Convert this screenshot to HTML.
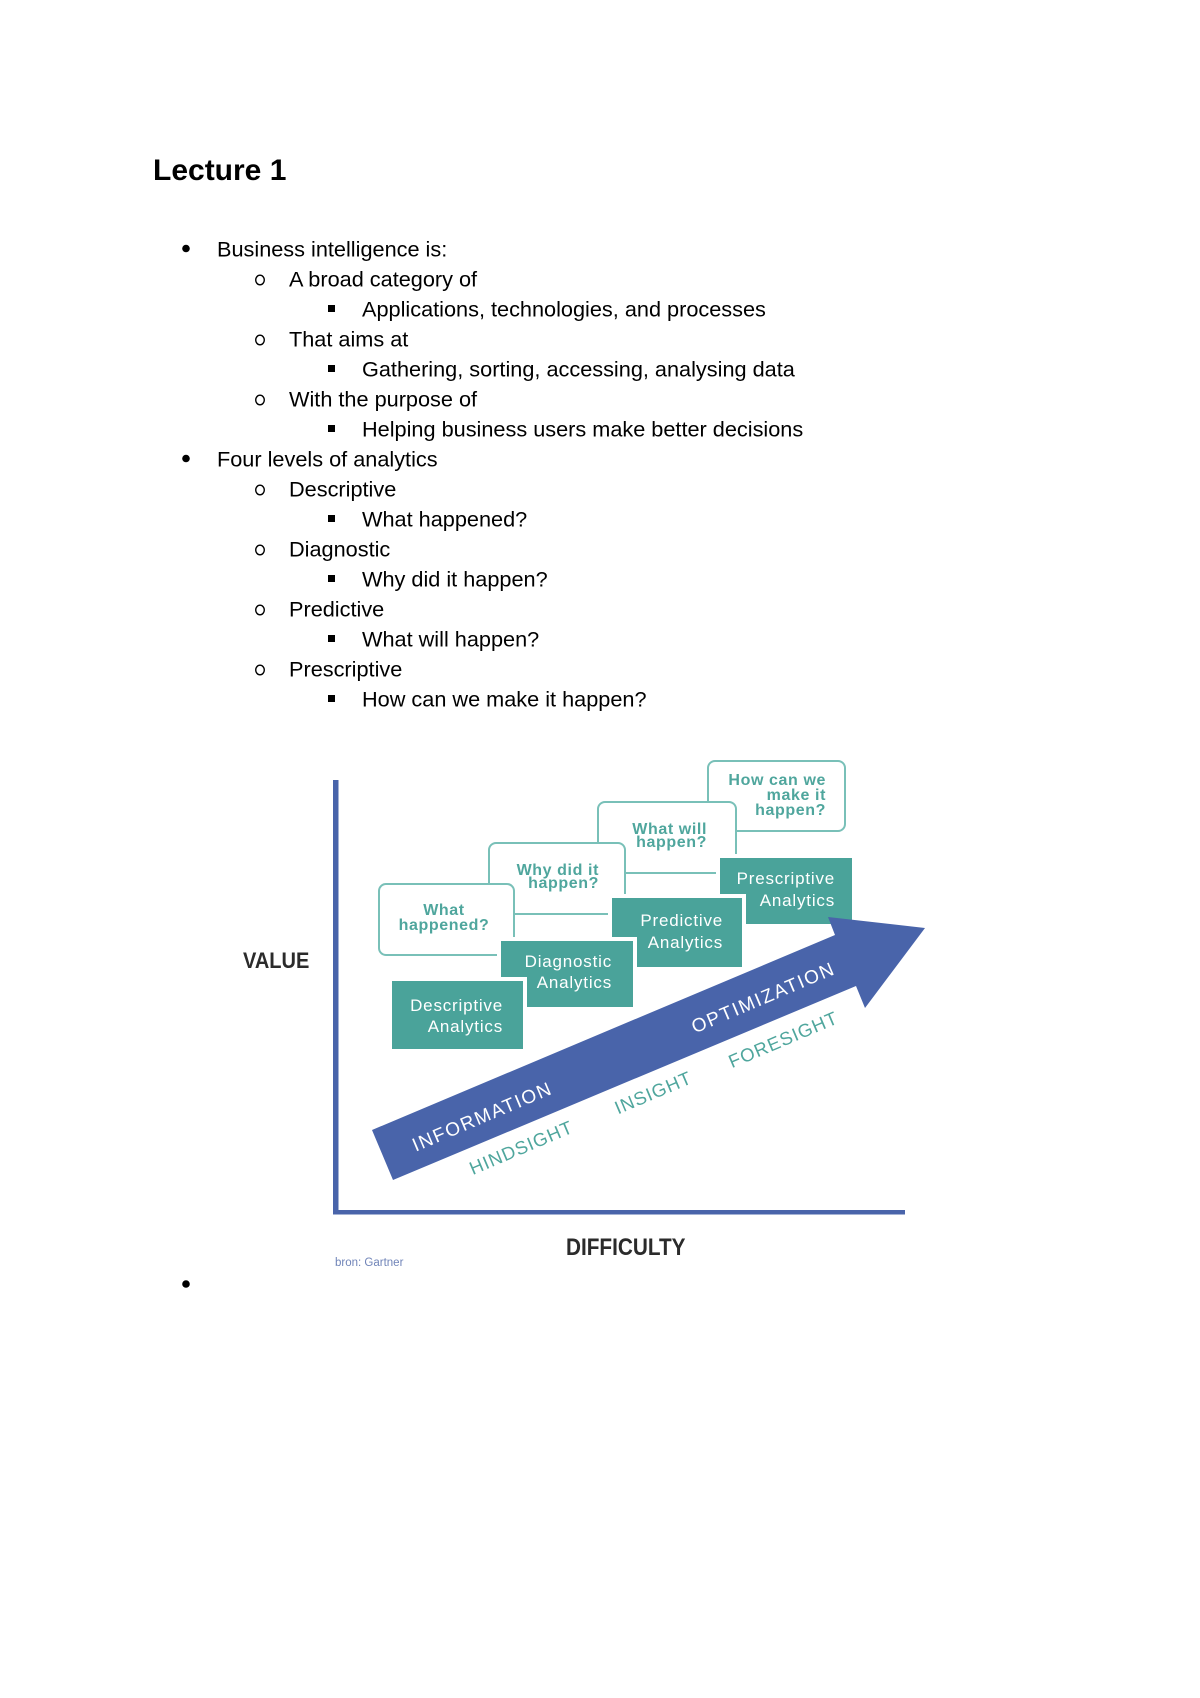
<!DOCTYPE html>
<html>
<head>
<meta charset="utf-8">
<style>
  html,body{margin:0;padding:0;background:#fff;}
  body{width:1200px;height:1698px;overflow:hidden;}
  svg{display:block;}
  .t{font-family:"Liberation Sans",Arial,sans-serif;font-size:21.7px;fill:#000;}
  .q{font-family:"Liberation Sans",Arial,sans-serif;font-size:16px;font-weight:bold;fill:#4fa69d;letter-spacing:0.6px;}
  .w{font-family:"Liberation Sans",Arial,sans-serif;font-size:17px;fill:#fff;letter-spacing:0.8px;}
  .a{font-family:"Liberation Sans",Arial,sans-serif;font-size:19px;fill:#fff;letter-spacing:1.7px;}
  .g{font-family:"Liberation Sans",Arial,sans-serif;font-size:18.5px;fill:#4fa69d;letter-spacing:1px;}
</style>
</head>
<body>
<svg width="1200" height="1698" viewBox="0 0 1200 1698" xmlns="http://www.w3.org/2000/svg">
  <rect x="0" y="0" width="1200" height="1698" fill="#fff"/>

  <!-- Title -->
  <text x="153" y="180" font-family="Liberation Sans, Arial, sans-serif" font-size="30" font-weight="bold" fill="#000">Lecture 1</text>

  <!-- Level 1 bullets -->
  <circle cx="186" cy="248.5" r="3.8" fill="#000"/>
  <circle cx="186" cy="458.5" r="3.8" fill="#000"/>
  <circle cx="186" cy="1284" r="3.8" fill="#000"/>

  <!-- Level 2 rings -->
  <g fill="none" stroke="#000" stroke-width="1.4">
    <ellipse cx="260" cy="280" rx="4.3" ry="4.8"/>
    <ellipse cx="260" cy="340" rx="4.3" ry="4.8"/>
    <ellipse cx="260" cy="400" rx="4.3" ry="4.8"/>
    <ellipse cx="260" cy="490" rx="4.3" ry="4.8"/>
    <ellipse cx="260" cy="550" rx="4.3" ry="4.8"/>
    <ellipse cx="260" cy="610" rx="4.3" ry="4.8"/>
    <ellipse cx="260" cy="670" rx="4.3" ry="4.8"/>
  </g>

  <!-- Level 3 squares -->
  <g fill="#000">
    <rect x="328" y="305" width="7" height="7"/>
    <rect x="328" y="365" width="7" height="7"/>
    <rect x="328" y="425" width="7" height="7"/>
    <rect x="328" y="515" width="7" height="7"/>
    <rect x="328" y="575" width="7" height="7"/>
    <rect x="328" y="635" width="7" height="7"/>
    <rect x="328" y="695" width="7" height="7"/>
  </g>

  <!-- Body text -->
  <text class="t" x="217" y="256.5">Business intelligence is:</text>
  <text class="t" x="289" y="286.5">A broad category of</text>
  <text class="t" x="362" y="316.5">Applications, technologies, and processes</text>
  <text class="t" x="289" y="346.5">That aims at</text>
  <text class="t" x="362" y="376.5">Gathering, sorting, accessing, analysing data</text>
  <text class="t" x="289" y="406.5">With the purpose of</text>
  <text class="t" x="362" y="436.5">Helping business users make better decisions</text>
  <text class="t" x="217" y="466.5">Four levels of analytics</text>
  <text class="t" x="289" y="496.5">Descriptive</text>
  <text class="t" x="362" y="526.5">What happened?</text>
  <text class="t" x="289" y="556.5">Diagnostic</text>
  <text class="t" x="362" y="586.5">Why did it happen?</text>
  <text class="t" x="289" y="616.5">Predictive</text>
  <text class="t" x="362" y="646.5">What will happen?</text>
  <text class="t" x="289" y="676.5">Prescriptive</text>
  <text class="t" x="362" y="706.5">How can we make it happen?</text>

  <!-- ===== Diagram ===== -->
  <!-- Axes -->
  <rect x="333" y="780" width="5.5" height="434" fill="#4964aa"/>
  <rect x="333" y="1210" width="572" height="4.5" fill="#4964aa"/>

  <!-- Question boxes (back to front) -->
  <g fill="#fff" stroke="#79c0b8" stroke-width="2">
    <rect x="708" y="761" width="137" height="70" rx="7"/>
    <rect x="598" y="802" width="138" height="71" rx="7"/>
    <rect x="489" y="843" width="136" height="71" rx="7"/>
    <rect x="379" y="884" width="135" height="71" rx="7"/>
  </g>

  <!-- Question texts -->
  <text class="q" x="826" y="785" text-anchor="end">How can we</text>
  <text class="q" x="826" y="800" text-anchor="end">make it</text>
  <text class="q" x="826" y="815" text-anchor="end">happen?</text>

  <text class="q" x="707" y="834" text-anchor="end">What will</text>
  <text class="q" x="707" y="847" text-anchor="end">happen?</text>

  <text class="q" x="599" y="875" text-anchor="end">Why did it</text>
  <text class="q" x="599" y="888" text-anchor="end">happen?</text>

  <text class="q" x="444" y="915" text-anchor="middle">What</text>
  <text class="q" x="444" y="930" text-anchor="middle">happened?</text>

  <!-- Teal boxes with white borders -->
  <rect x="716" y="854" width="140" height="74" fill="#fff"/>
  <rect x="720" y="858" width="132" height="66" fill="#4aa39a"/>

  <rect x="608" y="894" width="138" height="77" fill="#fff"/>
  <rect x="612" y="898" width="130" height="69" fill="#4aa39a"/>

  <rect x="497" y="937" width="140" height="74" fill="#fff"/>
  <rect x="501" y="941" width="132" height="66" fill="#4aa39a"/>

  <rect x="388" y="977" width="139" height="76" fill="#fff"/>
  <rect x="392" y="981" width="131" height="68" fill="#4aa39a"/>

  <text class="w" x="835" y="884" text-anchor="end">Prescriptive</text>
  <text class="w" x="835" y="906" text-anchor="end">Analytics</text>

  <text class="w" x="723" y="926" text-anchor="end">Predictive</text>
  <text class="w" x="723" y="948" text-anchor="end">Analytics</text>

  <text class="w" x="612" y="967" text-anchor="end">Diagnostic</text>
  <text class="w" x="612" y="988" text-anchor="end">Analytics</text>

  <text class="w" x="503" y="1011" text-anchor="end">Descriptive</text>
  <text class="w" x="503" y="1032" text-anchor="end">Analytics</text>

  <!-- Arrow -->
  <polygon points="372,1130 835,935 828,917 925,928 865,1008 856,986 393,1180" fill="#4964aa"/>

  <!-- Arrow texts -->
  <text class="a" text-anchor="middle" transform="translate(482,1116) rotate(-23)" y="7">INFORMATION</text>
  <text class="a" text-anchor="middle" transform="translate(763,997) rotate(-23)" y="7">OPTIMIZATION</text>

  <text class="g" text-anchor="middle" transform="translate(521,1147) rotate(-23)" y="7">HINDSIGHT</text>
  <text class="g" text-anchor="middle" transform="translate(653,1092) rotate(-23)" y="7">INSIGHT</text>
  <text class="g" text-anchor="middle" transform="translate(783,1039) rotate(-23)" y="7">FORESIGHT</text>

  <!-- Axis labels -->
  <text font-family="Liberation Sans, Arial, sans-serif" font-size="22" font-weight="bold" fill="#2b2b2b" transform="translate(243,968) scale(0.91,1)">VALUE</text>
  <text font-family="Liberation Sans, Arial, sans-serif" font-size="24" font-weight="bold" fill="#2b2b2b" transform="translate(566,1255) scale(0.865,1)">DIFFICULTY</text>

  <text x="335" y="1266" font-family="Liberation Sans, Arial, sans-serif" font-size="11.5" fill="#7084b8">bron: Gartner</text>
</svg>
</body>
</html>
